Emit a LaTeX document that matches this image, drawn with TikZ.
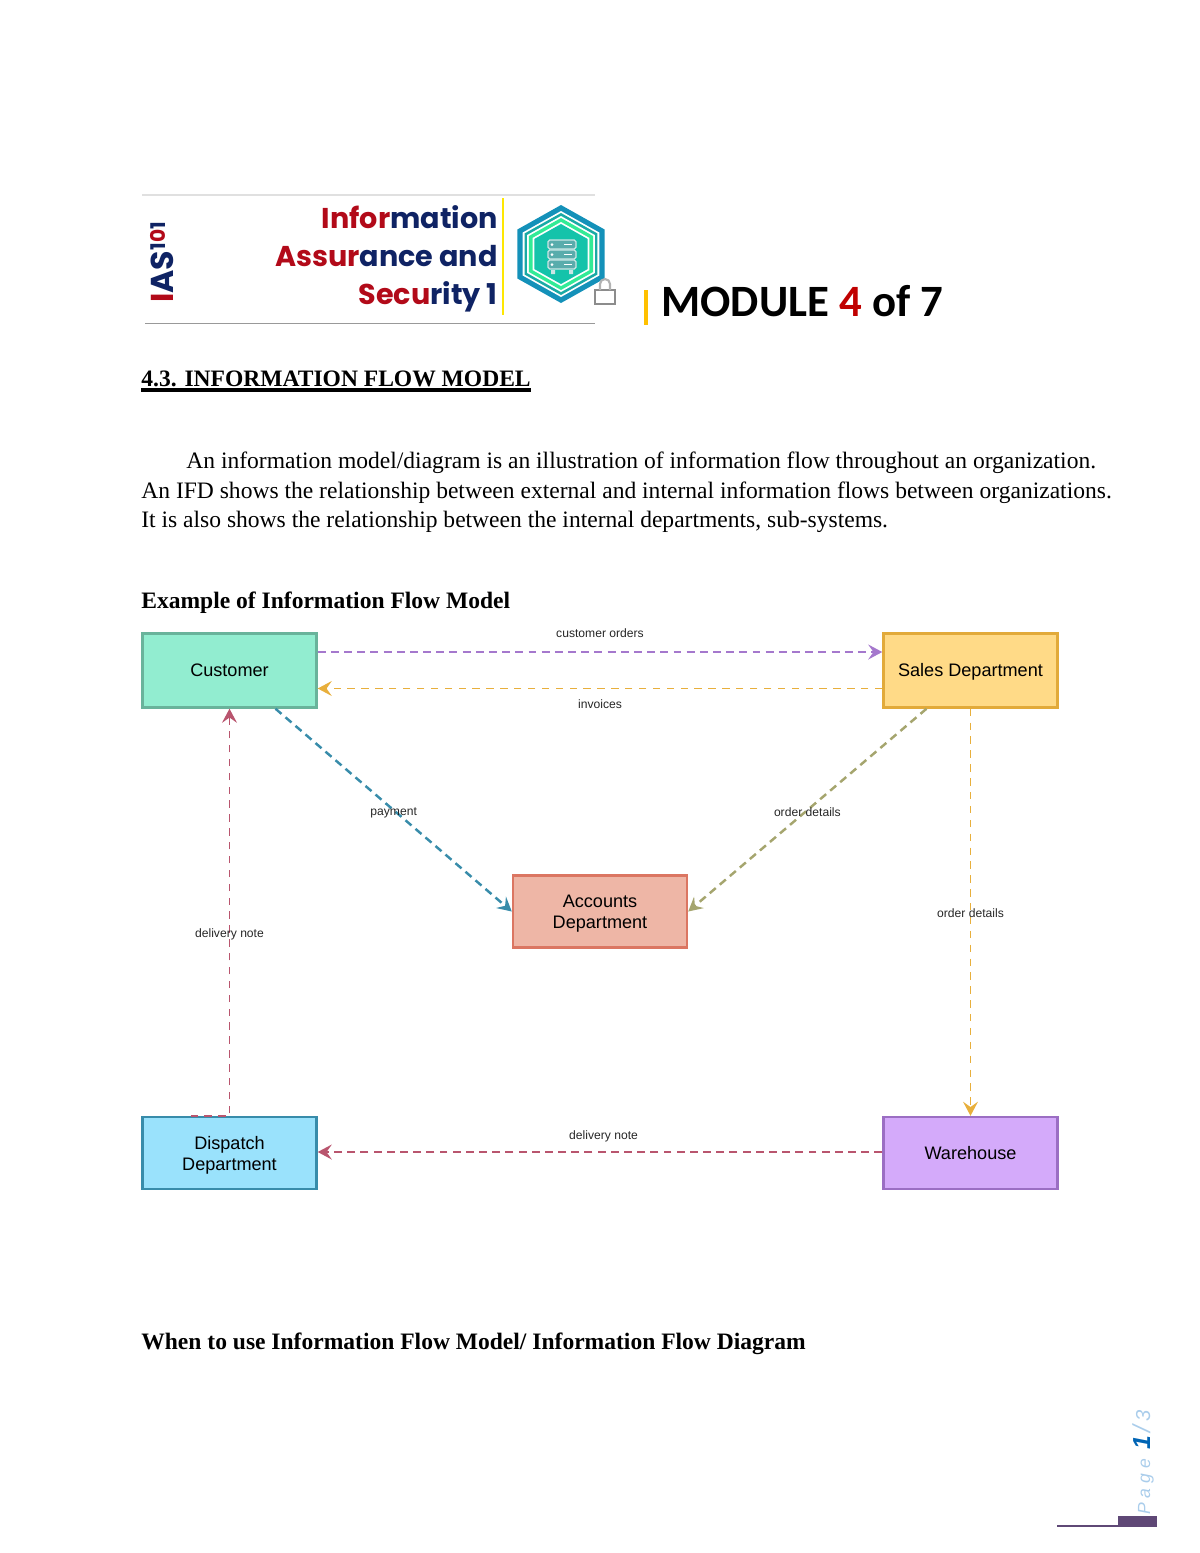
\documentclass[tikz,border=0pt]{standalone}
\usepackage{fontspec}
\setmainfont{Liberation Serif}
\newfontfamily\diagfont{Liberation Sans}
\newfontfamily\logofont{Poppins}
\newfontfamily\modfont{Carlito}
\usetikzlibrary{arrows.meta, positioning, calc}
\definecolor{custfill}{RGB}{146, 237, 208}
\definecolor{custline}{RGB}{105, 179, 155}
\definecolor{salesfill}{RGB}{255, 218, 135}
\definecolor{salesline}{RGB}{226, 170, 58}
\definecolor{acctfill}{RGB}{238, 182, 166}
\definecolor{acctline}{RGB}{219, 118, 98}
\definecolor{dispfill}{RGB}{154, 226, 252}
\definecolor{displine}{RGB}{56, 140, 170}
\definecolor{warefill}{RGB}{212, 170, 250}
\definecolor{wareline}{RGB}{155, 110, 195}
\definecolor{flowpurple}{RGB}{165, 120, 205}
\definecolor{floworange}{RGB}{232, 175, 60}
\definecolor{flowolive}{RGB}{165, 165, 110}
\definecolor{flowpink}{RGB}{185, 85, 110}
\definecolor{logored}{RGB}{178, 10, 25}
\definecolor{logonavy}{RGB}{15, 35, 100}
\definecolor{modred}{RGB}{192, 0, 0}
\definecolor{modbar}{RGB}{255, 192, 0}
\definecolor{pagepale}{RGB}{170, 205, 235}
\definecolor{pageblue}{RGB}{0, 100, 180}
\definecolor{pagepurple}{RGB}{95, 72, 118}

\begin{document}
\begin{tikzpicture}[
      x=0.02cm, y=-0.02cm,
      box/.style={rectangle, minimum width=3.48cm, minimum height=1.44cm,
                  line width=1.4pt, inner sep=0pt, align=center, text=black,
                  font=\diagfont\fontsize{10.3}{12}\selectfont},
      toprow/.style={minimum height=1.48cm},
      elab/.style={font=\diagfont\fontsize{6.9}{8}\selectfont, inner sep=0pt,
                   text=black!85},
      flow/.style={line width=1.4pt, dash pattern=on 4.5pt off 3pt,
                   -{Stealth[length=8pt, width=8.5pt, inset=3pt]}},
      thinflow/.style={line width=0.85pt, dash pattern=on 4.2pt off 3.7pt,
                   -{Stealth[length=8pt, width=8.5pt, inset=3pt]}},
      body/.style={anchor=base west, inner sep=0pt,
                   font=\fontsize{13.4}{16}\selectfont},
      head/.style={anchor=base west, inner sep=0pt,
                   font=\bfseries\fontsize{13.4}{16}\selectfont},
      logotxt/.style={anchor=base east, inner sep=0pt,
                   font=\logofont\bfseries\fontsize{16.3}{18}\selectfont},
  ]
  \useasboundingbox (0, 0) rectangle (1200, 1553);

  % Logo strip
  \draw[black!12, line width=1pt] (142, 195) -- (595, 195);
  \draw[black!40, line width=0.8pt] (145, 323.5) -- (595, 323.5);
  \draw[yellow!90!orange, line width=0.7pt] (503, 198) -- (503, 315);
  \node[logotxt] (info) at (498, 228)
      {\textcolor{logored}{Infor}\textcolor{logonavy}{mation}};
  \node[logotxt] (assur) at (498, 266)
      {\textcolor{logored}{Assur}\textcolor{logonavy}{ance and}};
  \node[logotxt] (secur) at (498, 304)
      {\textcolor{logored}{Secu}\textcolor{logonavy}{rity 1}};
  \node[rotate=90, anchor=base west, inner sep=0pt,
        font=\logofont\bfseries\fontsize{18}{20}\selectfont] (ias) at (173, 303)
      {\textcolor{logored}{I}\textcolor{logonavy}{AS}\raisebox{4.5pt}{\fontsize{11.5}{12}\selectfont\textcolor{logonavy}{1}\textcolor{logored}{0}\textcolor{logonavy}{1}}};

  % Hexagon badge
  \foreach \r/\c in {49/{rgb,255:red,20;green,145;blue,185},
                     43/white,
                     41/{rgb,255:red,25;green,170;blue,165},
                     38/white,
                     36/{rgb,255:red,50;green,235;blue,150},
                     32/white,
                     30/{rgb,255:red,20;green,195;blue,170}} {
    \fill[fill=\c] (561, 254-\r)
      -- ++(0.89*\r, 0.5*\r) -- ++(0, \r) -- ++(-0.89*\r, 0.5*\r)
      -- ++(-0.89*\r, -0.5*\r) -- ++(0, -\r) -- cycle;
  }
  \foreach \yy in {240, 250, 260} {
    \draw[white!80!teal, line width=0.7pt, rounded corners=1pt,
          fill=white!35!teal] (548, \yy) rectangle (576, \yy+9);
    \fill[white] (552, \yy+4.5) circle (1.5);
    \draw[white, line width=0.5pt] (564, \yy+4.5) -- (572, \yy+4.5);
  }
  \fill[white!80!teal] (551, 270) rectangle (555, 274) (569, 270) rectangle (573, 274);

  % Lock
  \draw[black!45, line width=1.1pt, fill=white] (595, 290) rectangle (615, 304);
  \draw[black!30, line width=1.2pt] (600, 290) -- (600, 284)
      arc[start angle=180, end angle=360, x radius=5, y radius=5] -- (610, 290);

  % Module title
  \draw[modbar, line width=2pt] (646, 290) -- (646, 325);
  \node[anchor=base west, inner sep=0pt,
        font=\modfont\bfseries\fontsize{25.5}{28}\selectfont] (module) at (661, 316)
      {MODULE \textcolor{modred}{4} of 7};

  % Text blocks
  \node[head] (sect) at (141, 386) {4.3. INFORMATION FLOW MODEL};
  \draw[black, line width=1.9pt] ([yshift=-2.3pt]sect.base west) -- ([yshift=-2.3pt]sect.base east);
  \node[body] (par1) at (186, 468)
      {An information model/diagram is an illustration of information flow throughout an organization.};
  \node[body] (par2) at (141, 498)
      {An IFD shows the relationship between external and internal information flows between organizations.};
  \node[body] (par3) at (141, 527)
      {It is also shows the relationship between the internal departments, sub-systems.};
  \node[head] (exhead) at (141, 608) {Example of Information Flow Model};
  \node[head] (whenhead) at (141, 1349) {When to use Information Flow Model/ Information Flow Diagram};

  % Departments
  \node[box, toprow, fill=custfill, draw=custline] (customer)
      at (229.5, 670.5) {Customer};
  \node[box, toprow, fill=salesfill, draw=salesline] (sales)
      at (970.5, 670.5) {\rule{0pt}{9.2pt}Sales Department};
  \node[box, fill=acctfill, draw=acctline] (accounts)
      at (600, 911.5) {\rule{0pt}{9.6pt}Accounts\\Department};
  \node[box, fill=dispfill, draw=displine] (dispatch)
      at (229.5, 1153) {\rule{0pt}{9.6pt}Dispatch\\Department};
  \node[box, fill=warefill, draw=wareline] (warehouse)
      at (970.5, 1153) {Warehouse};

  % Flows with labels
  \draw[flow, flowpurple] ($(customer.east)+(0,-18.5)$) --
      node[elab, above=7.3pt] {customer orders}
      ($(sales.west)+(0,-18.5)$);
  \draw[thinflow, floworange] ($(sales.west)+(0,18)$) --
      node[elab, below=6pt] {invoices}
      ($(customer.east)+(0,18)$);
  \draw[flow, displine] ($(customer.south)+(46,0)$) --
      node[elab, yshift=-1.4pt] {payment} (accounts.west);
  \draw[flow, flowolive] ($(sales.south)+(-44,0)$) --
      node[elab, yshift=-1.2pt] {order details} (accounts.east);
  \draw[thinflow, floworange] (sales.south) --
      node[elab, yshift=-0.6pt] {order details} (warehouse.north);
  \draw[flow, flowpink] ($(warehouse.west)+(0,-1)$) --
      node[elab, above=5.2pt, xshift=2pt] {delivery note} ($(dispatch.east)+(0,-1)$);
  \coordinate (dispbend) at ($(dispatch.north)+(-39,0)$);
  \draw[thinflow, flowpink] (dispbend) -- (dispatch.north) --
      node[elab, pos=0.45, yshift=-1pt] {delivery note} (customer.south);

  % Page number
  \draw[pagepurple, line width=1.2pt] (1057, 1526) -- (1118, 1526);
  \fill[pagepurple] (1118, 1516) rectangle (1157, 1527);
  \node[anchor=base west, rotate=90, inner sep=0pt, text=pagepale,
        font=\diagfont\itshape\fontsize{10}{12}\selectfont] (pagenum) at (1150, 1515)
      {P\;a\;g\;e\;\;\textcolor{pageblue}{\bfseries\fontsize{14}{14}\selectfont 1}\,\fontsize{14}{14}\selectfont /\,\fontsize{11.5}{12}\selectfont 3};
\end{tikzpicture}
\end{document}
